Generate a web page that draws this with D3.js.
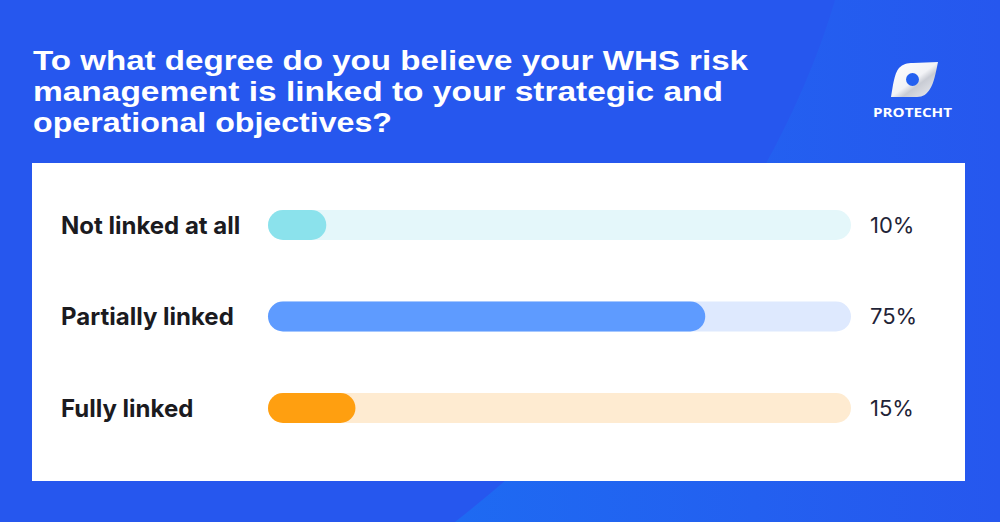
<!DOCTYPE html>
<html><head><meta charset="utf-8">
<script src="https://cdn.jsdelivr.net/npm/d3@7"></script>
<style>html,body{margin:0;padding:0;background:#2657EE;}svg{display:block}</style>
</head><body>
<svg id="chart" width="1000" height="522"></svg>
<script>
const titleLines = ["To what degree do you believe your WHS risk", "management is linked to your strategic and", "operational objectives?"];
const categories = ["Not linked at all", "Partially linked", "Fully linked"];
const values = [10, 75, 15];
const fillColors = ["#8BE2EC", "#5E9BFF", "#FF9F10"];
const trackColors = ["#E4F7FA", "#DEE9FE", "#FEEBD1"];
const brand = "PROTECHT";

const svg = d3.select("#chart");
const W = 1000, H = 522;
const defs = svg.append("defs");

// background
svg.append("rect").attr("width", W).attr("height", H).attr("fill", "#2657EE");
const g1 = defs.append("linearGradient").attr("id", "band").attr("x1", "0").attr("y1", "0").attr("x2", "1").attr("y2", "0");
g1.append("stop").attr("offset", "0").attr("stop-color", "#1E6AF2");
g1.append("stop").attr("offset", "0.55").attr("stop-color", "#2360F0");
g1.append("stop").attr("offset", "1").attr("stop-color", "#2657EE");
svg.append("path")
  .attr("d", "M835,0 C800,120 700,330 455,522 L1000,522 L1000,0 Z")
  .attr("fill", "url(#band)");

// title
const targetW = [715, 690, 359];
const title = svg.append("g")
  .attr("fill", "#fff")
  .attr("font-family", "'Liberation Sans', Arial, sans-serif")
  .attr("font-weight", 700)
  .attr("font-size", 27.5);
titleLines.forEach((t, i) => {
  title.append("text")
    .attr("x", 33).attr("y", 69.5 + i * 31)
    .attr("textLength", targetW[i]).attr("lengthAdjust", "spacingAndGlyphs")
    .text(t);
});

// logo
const logo = svg.append("g");
const lg = defs.append("linearGradient").attr("id", "logoG").attr("x1", "0").attr("y1", "0").attr("x2", "1").attr("y2", "1");
lg.append("stop").attr("offset", "0").attr("stop-color", "#ffffff");
lg.append("stop").attr("offset", "0.5").attr("stop-color", "#f2f3f6");
lg.append("stop").attr("offset", "0.62").attr("stop-color", "#c9ccd4");
lg.append("stop").attr("offset", "1").attr("stop-color", "#eef0f4");
logo.append("path")
  .attr("d", "M891,97 C893,86 894,74 899,68 C903,64 907,63 913,63 L938,62 C936,72 934,83 930,89 C927,94 923,97 917,97 Z")
  .attr("fill", "url(#logoG)");
logo.append("circle").attr("cx", 912.5).attr("cy", 79.5).attr("r", 6.5).attr("fill", "#2360F0");
logo.append("text")
  .attr("x", 873).attr("y", 117)
  .attr("fill", "#fff").attr("font-family", "'Open Sans', sans-serif")
  .attr("font-weight", 700).attr("font-size", 12.8)
  .attr("textLength", 79).attr("lengthAdjust", "spacingAndGlyphs")
  .text(brand);

// panel
svg.append("rect").attr("x", 32).attr("y", 163).attr("width", 933).attr("height", 318).attr("fill", "#fff");

// scales
const x = d3.scaleLinear().domain([0, 100]).range([268, 851]);
const y = d3.scalePoint().domain(categories).range([225, 408]);
const bh = 30;

const rows = svg.append("g").selectAll("g").data(categories).join("g");
rows.append("rect")
  .attr("x", x(0)).attr("y", d => y(d) - bh / 2)
  .attr("width", x(100) - x(0)).attr("height", bh)
  .attr("rx", bh / 2)
  .attr("fill", (d, i) => trackColors[i]);
rows.append("rect")
  .attr("x", x(0)).attr("y", d => y(d) - bh / 2)
  .attr("width", (d, i) => x(values[i]) - x(0)).attr("height", bh)
  .attr("rx", bh / 2)
  .attr("fill", (d, i) => fillColors[i]);
rows.append("text")
  .attr("x", 61).attr("y", d => y(d) + 8.5)
  .attr("fill", "#1b1b1f")
  .attr("font-family", "Inter, Roboto, sans-serif").attr("font-weight", 700).attr("font-size", 24)
  .text(d => d);
rows.append("text")
  .attr("x", 870).attr("y", d => y(d) + 7.5)
  .attr("fill", "#1f2437")
  .attr("font-family", "Inter, Roboto, sans-serif").attr("font-weight", 400).attr("font-size", 22)
  .text((d, i) => values[i] + "%");
</script>
</body></html>
